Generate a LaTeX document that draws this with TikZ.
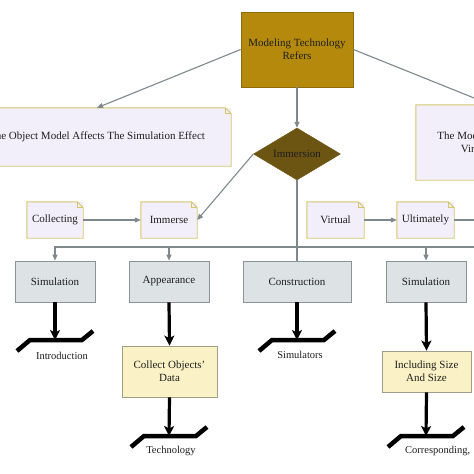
\documentclass[tikz,border=0pt]{standalone}
\usepackage{fontspec}
\setmainfont{Liberation Serif}
\usetikzlibrary{arrows.meta,shapes.geometric}
\definecolor{gold}{HTML}{B58A0C}
\definecolor{goldbd}{HTML}{8E6C0A}
\definecolor{dia}{HTML}{6C5413}
\definecolor{notefill}{HTML}{F3EFFA}
\definecolor{notebd}{HTML}{D4C46C}
\definecolor{greyfill}{HTML}{DDE2E4}
\definecolor{greybd}{HTML}{8C9396}
\definecolor{yelfill}{HTML}{FAF2C6}
\definecolor{yelbd}{HTML}{A09E88}
\definecolor{conn}{HTML}{7E898D}
\definecolor{txt}{HTML}{1E1E1E}
\tikzset{
  every node/.style={font=\fontsize{11}{13}\selectfont, text=txt, inner sep=0pt, align=center},
  topbox/.style={rectangle, fill=gold, draw=goldbd, line width=0.8pt, minimum width=112pt, minimum height=75pt},
  diabox/.style={diamond, fill=dia, draw=dia, minimum width=87pt, minimum height=52pt, aspect=1.67},
  notebox/.style={rectangle, fill=notefill, minimum height=36pt},
  greybox/.style={rectangle, fill=greyfill, draw=greybd, line width=0.8pt, minimum height=41pt},
  yelbox/.style={rectangle, fill=yelfill, draw=yelbd, line width=0.8pt},
  gc/.style={draw=conn, line width=1.1pt},
  ga/.style={gc, -{Triangle[length=6pt,width=5pt]}},
  ba/.style={draw=black, line width=3.2pt, -{Stealth[length=10pt,width=10pt,inset=2.5pt]}},
  store/.style={draw=black, line width=4.5pt},
  lbl/.style={font=\fontsize{10.5}{12}\selectfont}
}
\newcommand{\notebd}[1]{%
  \draw[notebd, line width=0.9pt] (#1.south west) -- (#1.north west) -- ([xshift=-6pt]#1.north east)
    -- ([yshift=-6pt]#1.north east) -- (#1.south east) -- cycle;
  \draw[notebd, line width=0.7pt] ([xshift=-6pt]#1.north east) -- ([xshift=-6pt,yshift=-6pt]#1.north east)
    -- ([yshift=-6pt]#1.north east);}
\newcommand{\storeshape}[1]{%
  \draw[store] ([xshift=-38pt,yshift=-11pt]#1) -- ([xshift=-25pt]#1) -- ([xshift=27pt]#1) -- ([xshift=38pt,yshift=9pt]#1);}
\begin{document}
\begin{tikzpicture}[x=1pt,y=-1pt]
\useasboundingbox (0,0) rectangle (474,474);
\fill[white] (0,0) rectangle (474,474);
\clip (0,0) rectangle (474,474);

% top level
\node[topbox] (top) at (297,49.5) {Modeling Technology\\Refers};
\node[diabox] (dm) at (297,154) {Immersion};

\node[notebox, minimum width=268pt, minimum height=58pt] (ln) at (97,137) {The Object Model Affects The Simulation Effect};
\notebd{ln}
\node[notebox, minimum width=150pt, minimum height=75pt] (rn) at (491,142.5) {The Model Reflects The\\Virtual World};
\notebd{rn}

% note row
\node[notebox, minimum width=56pt] (col) at (55,220) {Collecting};
\notebd{col}
\node[notebox, minimum width=56pt] (imm) at (169,220) {Immerse};
\notebd{imm}
\node[notebox, minimum width=57pt] (vir) at (335.5,220) {Virtual};
\notebd{vir}
\node[notebox, minimum width=57pt] (ult) at (425.5,220) {Ultimately};
\notebd{ult}

% grey boxes
\node[greybox, minimum width=80pt] (s1) at (55,281.5) {Simulation};
\node[greybox, minimum width=80pt] (ap) at (169,281.5) {Appearance};
\node[greybox, minimum width=108pt] (cn) at (297,281.5) {Construction};
\node[greybox, minimum width=80pt] (s2) at (426,281.5) {Simulation};

% yellow boxes
\node[yelbox, minimum width=95pt, minimum height=51pt] (y1) at (169.5,371.5) {Collect Objects'\\Data};
\node[yelbox, minimum width=89pt, minimum height=41pt] (y2) at (426.5,371.5) {Including Size\\And Size};

% connectors top
\draw[ga] (top.south) -- (dm.north);
\draw[ga] (top.west) -- (ln.north);
\draw[ga] (top.east) -- (rn.north);
\draw[ga] (dm.west) -- (imm.east);
\draw[ga] (col.east) -- (imm.west);
\draw[ga] (vir.east) -- (ult.west);
\coordinate (ultend) at (500,220);
\draw[gc] (ult.east) -- (ultend);

% bus
\coordinate (bj) at (297,247);
\coordinate (busend) at (500,247);
\draw[gc] (dm.south) -- (cn.north);
\draw[gc] (bj) -- (busend);
\draw[ga] (bj) -| (s1);
\draw[ga] (bj) -| (ap);
\draw[ga] (bj) -| (s2);

% data stores
\coordinate (d1) at (55,340);
\coordinate (d2) at (169,436);
\coordinate (d3) at (297,340);
\coordinate (d4) at (426,436);
\storeshape{d1}
\storeshape{d2}
\storeshape{d3}
\storeshape{d4}
\draw[ba] (s1.south) -- (d1);
\draw[ba] (ap.south) -- (y1.north);
\draw[ba] (y1.south) -- (d2);
\draw[ba] (cn.south) -- (d3);
\draw[ba] (s2.south) -- (y2.north);
\draw[ba] (y2.south) -- (d4);

\node[lbl] (l1) at (62,356) {Introduction};
\node[lbl] (l2) at (171,451) {Technology};
\node[lbl] (l3) at (300,355) {Simulators};
\node[lbl, anchor=west] (l4) at (405,451) {Corresponding,};
\end{tikzpicture}
\end{document}
